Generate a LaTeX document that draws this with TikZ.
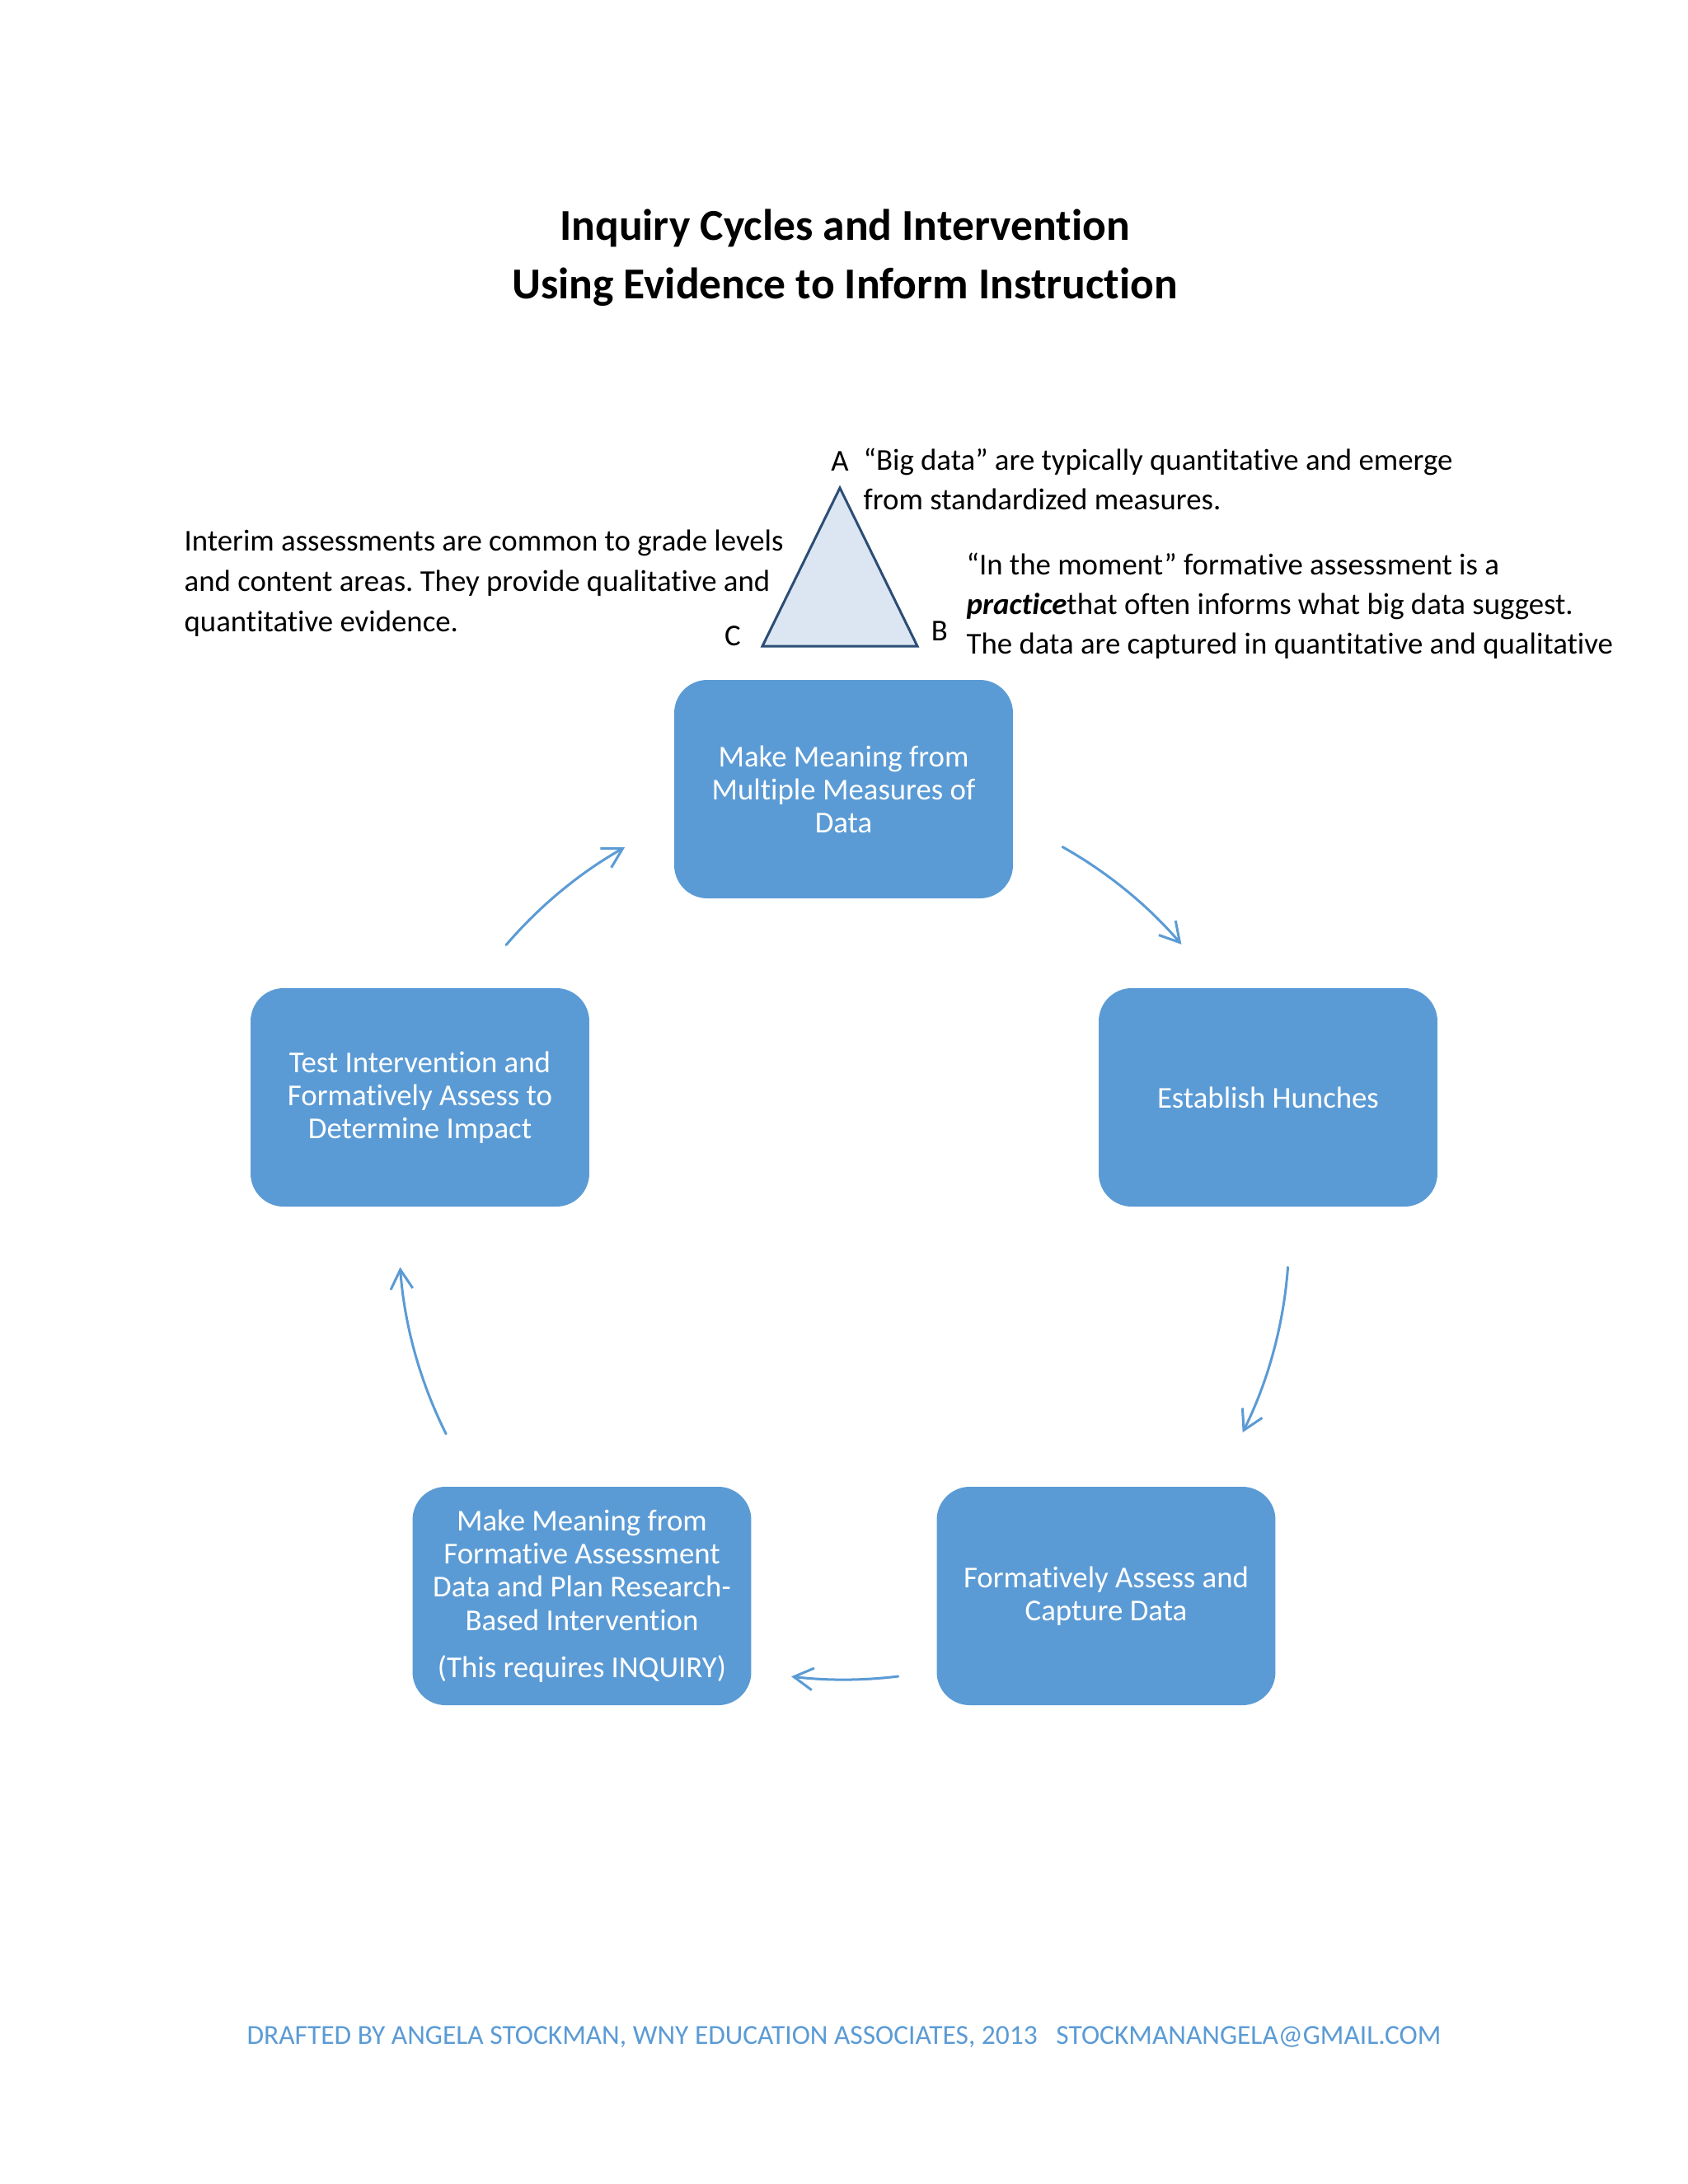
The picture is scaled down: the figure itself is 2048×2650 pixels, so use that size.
\documentclass[tikz,border=0pt]{standalone}
\usepackage{fontspec}
\setmainfont{Carlito}[Ligatures={NoCommon}]
\usetikzlibrary{arrows.meta,calc}
\frenchspacing
\definecolor{boxblue}{HTML}{5B9BD5}
\definecolor{trifill}{HTML}{DCE6F2}
\definecolor{tristroke}{HTML}{2C4D75}
\definecolor{footblue}{HTML}{5B9BD5}
\tikzset{
  stepbox/.style={rectangle, rounded corners=12pt, fill=boxblue, draw=none,
    minimum width=122.8pt, minimum height=79.2pt, inner sep=0pt,
    text=white, align=center, font=\fontsize{11}{12}\selectfont},
  bodytext/.style={anchor=base west, inner sep=0pt, font=\fontsize{11}{13}\selectfont},
  labeltext/.style={anchor=base, inner sep=0pt, font=\fontsize{11}{13}\selectfont},
  titletext/.style={anchor=base, inner sep=0pt, font=\fontsize{16}{19}\selectfont\bfseries},
  cyc/.style={draw=boxblue, line width=0.9pt, line cap=round,
    -{Straight Barb[length=7pt,width=8pt,line width=0.9pt]}}
}
\begin{document}
\begin{tikzpicture}[x=0.29883pt, y=-0.29883pt]
\useasboundingbox[fill=white] (0,0) rectangle (2048,2650);

% title
\node[titletext] (title1) at (1025,291) {Inquiry Cycles and Intervention};
\node[titletext] (title2) at (1025,362) {Using Evidence to Inform Instruction};

% triangle
\coordinate (ta) at (1019,592);
\coordinate (tb) at (1113,784);
\coordinate (tc) at (925,784);
\filldraw[fill=trifill, draw=tristroke, line width=0.9pt, line join=miter] (ta) -- (tb) -- (tc) -- cycle;
\node[labeltext] (la) at (1019,571) {A};
\node[labeltext] (lb) at (1140,777) {B};
\node[labeltext] (lc) at (889,783) {C};

% text blocks
\node[bodytext] (ta1) at (1047,570) {“Big data” are typically quantitative and emerge};
\node[bodytext] (ta2) at (1047,618) {from standardized measures.};

\node[bodytext] (tl1) at (223,668) {Interim assessments are common to grade levels};
\node[bodytext] (tl2) at (223,717) {and content areas. They provide qualitative and};
\node[bodytext] (tl3) at (223,766) {quantitative evidence.};

\node[bodytext] (tr1) at (1172,697) {“In the moment” formative assessment is a};
\node[bodytext] (tr2) at (1172,745) {\textbf{\textit{practice}}that often informs what big data suggest.};
\node[bodytext] (tr3) at (1172,793) {The data are captured in quantitative and qualitative};

% cycle boxes
\node[stepbox] (b1) at (1023.5,957.5) {Make Meaning from\\Multiple Measures of\\Data};
\node[stepbox] (b2) at (1538.5,1331.5) {Establish Hunches};
\node[stepbox] (b3) at (1342,1936.5) {Formatively Assess and\\Capture Data};
\node[stepbox] (b4) at (706,1936.5) {Make Meaning from\\Formative Assessment\\Data and Plan Research-\\Based Intervention\\[5pt](This requires INQUIRY)};
\node[stepbox] (b5) at (509.5,1331.5) {Test Intervention and\\Formatively Assess to\\Determine Impact};

% cycle arrows (arcs on a common circle)
\coordinate (cc) at (1024,1498);
\coordinate (s1) at ($(cc)+(60.6:161.37pt)$);
\coordinate (s2) at ($(cc)+(-4.2:161.37pt)$);
\coordinate (s3) at ($(cc)+(-83.0:161.37pt)$);
\coordinate (s4) at ($(cc)+(206.6:161.37pt)$);
\coordinate (s5) at ($(cc)+(139.4:161.37pt)$);
\draw[cyc] (s1) arc[start angle=60.6, end angle=40.7, radius=161.37pt];
\draw[cyc] (s2) arc[start angle=-4.2, end angle=-26.4, radius=161.37pt];
\draw[cyc] (s3) arc[start angle=-83.0, end angle=-96.8, radius=161.37pt];
\draw[cyc] (s4) arc[start angle=206.6, end angle=184.2, radius=161.37pt];
\draw[cyc] (s5) arc[start angle=139.4, end angle=119.5, radius=161.37pt];

% footer
\node[anchor=base, inner sep=0pt, text=footblue, font=\fontsize{10}{12}\selectfont] (foot) at (1024,2480)
  {DRAFTED BY ANGELA STOCKMAN, WNY EDUCATION ASSOCIATES, 2013\ \ \ STOCKMANANGELA@GMAIL.COM};
\end{tikzpicture}
\end{document}
